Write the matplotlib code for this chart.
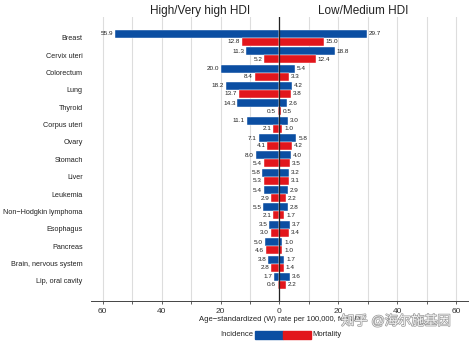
import matplotlib
matplotlib.use("Agg")
import matplotlib.pyplot as plt
import matplotlib.patheffects as pe
from matplotlib.patches import Rectangle
import numpy as np

plt.rcParams['font.family'] = ['Liberation Sans', 'Noto Sans CJK SC', 'DejaVu Sans']

# cancer sites, top to bottom
sites = ["Breast", "Cervix uteri", "Colorectum", "Lung", "Thyroid", "Corpus uteri",
         "Ovary", "Stomach", "Liver", "Leukemia", "Non\u2212Hodgkin lymphoma",
         "Esophagus", "Pancreas", "Brain, nervous system", "Lip, oral cavity"]

# High/Very high HDI (left side)
high_inc = [55.9, 11.3, 20.0, 18.2, 14.3, 11.1, 7.1, 8.0, 5.8, 5.4, 5.5, 3.5, 5.0, 3.8, 1.7]
high_mort = [12.8, 5.2, 8.4, 13.7, 0.5, 2.1, 4.1, 5.4, 5.3, 2.9, 2.1, 3.0, 4.6, 2.8, 0.6]
# Low/Medium HDI (right side)
low_inc = [29.7, 18.8, 5.4, 4.2, 2.6, 3.0, 5.8, 4.0, 3.2, 2.9, 2.8, 3.7, 1.0, 1.7, 3.6]
low_mort = [15.0, 12.4, 3.3, 3.8, 0.5, 1.0, 4.2, 3.5, 3.1, 2.2, 1.7, 3.4, 1.0, 1.4, 2.2]

blue = "#0b4ea2"
red = "#e2161c"

fig = plt.figure(figsize=(4.74, 3.47), dpi=100)
ax = fig.add_axes([0.192, 0.133, 0.795, 0.818])

y = np.arange(len(sites))
h = 0.46
off = h / 2

# grid
for g in range(-60, 61, 10):
    ax.axvline(g, color="#dddddd", lw=0.8, zorder=0)

ax.barh(y - off, -np.array(high_inc), height=h, color=blue, edgecolor="white", lw=0.3, zorder=2)
ax.barh(y + off, -np.array(high_mort), height=h, color=red, edgecolor="white", lw=0.3, zorder=2)
ax.barh(y - off, low_inc, height=h, color=blue, edgecolor="white", lw=0.3, zorder=2)
ax.barh(y + off, low_mort, height=h, color=red, edgecolor="white", lw=0.3, zorder=2)

fs = 4.6
for i in range(len(sites)):
    ax.text(-high_inc[i] - 0.6, y[i] - off, "%.1f" % high_inc[i], ha="right", va="center", fontsize=fs, color="#222222")
    ax.text(-high_mort[i] - 0.6, y[i] + off, "%.1f" % high_mort[i], ha="right", va="center", fontsize=fs, color="#222222")
    ax.text(low_inc[i] + 0.6, y[i] - off, "%.1f" % low_inc[i], ha="left", va="center", fontsize=fs, color="#222222")
    ax.text(low_mort[i] + 0.6, y[i] + off, "%.1f" % low_mort[i], ha="left", va="center", fontsize=fs, color="#222222")

ax.axvline(0, color="#222222", lw=0.9, zorder=3)

ax.set_xlim(-64, 64)
ax.set_ylim(len(sites) - 1 + 1.15, -1.2)
ax.set_yticks(y)
ax.set_yticklabels(sites, fontsize=5.2, color="#222222")
ax.tick_params(axis="y", length=0, pad=6)

ax.set_xticks(np.arange(-60, 61, 10))
ax.set_xticklabels([str(abs(t)) if t % 20 == 0 else "" for t in range(-60, 61, 10)],
                   fontsize=6, color="#333333")
ax.tick_params(axis="x", length=2, width=0.6, color="#444444", pad=3)

for s in ["top", "right", "left"]:
    ax.spines[s].set_visible(False)
ax.spines["bottom"].set_color("#444444")
ax.spines["bottom"].set_linewidth(0.7)

ax.text(-27, -1.55, "High/Very high HDI", ha="center", va="center", fontsize=8.5, color="#222222")
ax.text(28.5, -1.55, "Low/Medium HDI", ha="center", va="center", fontsize=8.5, color="#222222")

# x label and legend
fig.text(0.59, 0.078, "Age\u2212standardized (W) rate per 100,000, female", ha="center", va="center",
         fontsize=5.5, color="#222222")
fig.text(0.535, 0.035, "Incidence", ha="right", va="center", fontsize=5.5, color="#222222")
fig.add_artist(Rectangle((0.539, 0.024), 0.059, 0.022, transform=fig.transFigure, color=blue))
fig.add_artist(Rectangle((0.598, 0.024), 0.059, 0.022, transform=fig.transFigure, color=red))
fig.text(0.659, 0.035, "Mortality", ha="left", va="center", fontsize=5.5, color="#222222")

# watermark
fig.text(0.72, 0.074, "知乎 @海尔施基因", ha="left", va="center", fontsize=9.5, color="#f4f4f4",
         path_effects=[pe.withStroke(linewidth=1.0, foreground="#9a9a9a")])

fig.savefig("out.png", dpi=100)
